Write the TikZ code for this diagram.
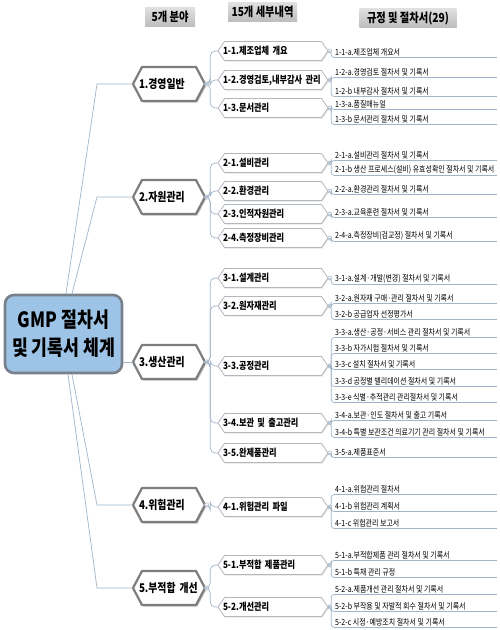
\documentclass[tikz,border=0pt]{standalone}
\usepackage{fontspec}
\newfontfamily\kr[FakeStretch=0.82]{Noto Sans CJK KR}
\definecolor{linec}{RGB}{160,180,202}
\definecolor{hexgray}{RGB}{125,125,125}
\definecolor{hexlight}{RGB}{178,184,192}
\definecolor{rootfill}{RGB}{157,195,230}
\definecolor{rootedge}{RGB}{120,128,138}
\tikzset{
  conn/.style={draw=linec, line width=0.7pt},
  knobst/.style={fill=white, draw=hexlight, line width=0.6pt},
  rootst/.style={draw=rootedge, fill=rootfill, line width=2.6pt, rounded corners=9pt,
    minimum width=117pt, minimum height=78pt, align=center, inner sep=0pt,
    font=\kr\bfseries\fontsize{21}{28}\selectfont},
  lonest/.style={minimum width=72pt, minimum height=34pt, text width=60pt, inner xsep=6pt,
    inner ysep=0pt, align=left, font=\kr\bfseries\fontsize{12}{14}\selectfont},
  ltwost/.style={minimum width=110pt, minimum height=19pt, text width=100pt, inner xsep=5pt,
    inner ysep=0pt, align=left, font=\kr\bfseries\fontsize{10}{12}\selectfont},
  leafst/.style={anchor=south west, inner xsep=1pt, inner ysep=1.5pt,
    font=\kr\fontsize{8.5}{9}\selectfont},
  hdr/.style={inner sep=0pt, minimum height=19pt, top color=black!12, bottom color=black!26,
    font=\kr\bfseries\fontsize{12.5}{14}\selectfont}
}
\newcommand\hexpath[6]{%
  \path[#6] ({#1-#3/2},{#2}) -- ({#1-#3/2+#5},{#2-#4/2}) -- ({#1+#3/2-#5},{#2-#4/2})
    -- ({#1+#3/2},{#2}) -- ({#1+#3/2-#5},{#2+#4/2}) -- ({#1-#3/2+#5},{#2+#4/2}) -- cycle;}
\newcommand\lone[3]{%
  \hexpath{170.5}{#2+1.5}{72}{34}{9}{fill=black!22}
  \hexpath{169}{#2}{72}{34}{9}{fill=white, draw=hexgray, line width=2.2pt, line join=round}
  \node[lonest] (#1) at (169,#2) {#3};
  \path[knobst] (#1.east) ++(1.5,0) circle[radius=2.2];}
\newcommand\ltwo[3]{%
  \hexpath{274}{#2+1.2}{110}{19}{6.5}{fill=black!10}
  \hexpath{273}{#2}{110}{19}{6.5}{fill=white, draw=hexlight, line width=0.8pt}
  \node[ltwost] (#1) at (273,#2) {#3};
  \path[knobst] (#1.east) ++(1.5,0) circle[radius=2];}
\newcommand\lconn[2]{\draw[conn, rounded corners=5pt] (#1.east) -- ++(5,0) |- (#2.west);}
\newcommand\leaf[4]{%
  \node[leafst] (#1) at (334,{#3+5.5}) {#4};
  \draw[conn, rounded corners=3pt] (#2.east) -- ++(3,0) |- (#1.south west);
  \draw[conn] (#1.south west) -- (#1.south west -| rx);}
\begin{document}
\begin{tikzpicture}[x=1pt,y=-1pt]
\useasboundingbox (0,0) rectangle (499,630);
\coordinate (rx) at (497,0);
\coordinate (jx) at (97,0);
% headers
\node[hdr, minimum width=50pt] (h1) at (170,17) {5개 분야};
\node[hdr, minimum width=69pt] (h2) at (262.5,12) {15개 세부내역};
\node[hdr, minimum width=97pt] (h3) at (408,18) {규정 및 절차서(29)};
% root
\node[rootst] (root) at (63.5,334) {GMP 절차서\\및 기록서 체계};
% level 1
\lone{A}{84}{1.경영일반}
\lone{B}{197}{2.자원관리}
\lone{C}{362}{3.생산관리}
\lone{D}{505}{4.위험관리}
\lone{E}{588}{5.부적합 개선}
% root connectors
\draw[conn] ([xshift=2.5pt]root.north) -- (A.west -| jx) -- (A.west);
\draw[conn] ([xshift=8.5pt]root.north) -- (B.west -| jx) -- (B.west);
\draw[conn] (C.west -| root.east) -- (C.west);
\draw[conn] ([xshift=8.5pt]root.south) -- (D.west -| jx) -- (D.west);
\draw[conn] ([xshift=4.5pt]root.south) -- (E.west -| jx) -- (E.west);
% level 2
\ltwo{A1}{51}{1-1.제조업체 개요}
\ltwo{A2}{80}{1-2.경영검토,내부감사 관리}
\ltwo{A3}{108}{1-3.문서관리}
\ltwo{B1}{163}{2-1.설비관리}
\ltwo{B2}{191}{2-2.환경관리}
\ltwo{B3}{214}{2-3.인적자원관리}
\ltwo{B4}{238}{2-4.측정장비관리}
\ltwo{C1}{278}{3-1.설계관리}
\ltwo{C2}{306}{3-2.원자재관리}
\ltwo{C3}{366}{3-3.공정관리}
\ltwo{C4}{423}{3-4.보관 및 출고관리}
\ltwo{C5}{453}{3-5.완제품관리}
\ltwo{D1}{507}{4-1.위험관리 파일}
\ltwo{E1}{565}{5-1.부적합 제품관리}
\ltwo{E2}{607}{5-2.개선관리}
\lconn{A}{A1}\lconn{A}{A2}\lconn{A}{A3}
\lconn{B}{B1}\lconn{B}{B2}\lconn{B}{B3}\lconn{B}{B4}
\lconn{C}{C1}\lconn{C}{C2}\lconn{C}{C3}\lconn{C}{C4}\lconn{C}{C5}
\lconn{D}{D1}
\lconn{E}{E1}\lconn{E}{E2}
% leaves
\leaf{a11a}{A1}{52}{1-1-a.제조업체 개요서}
\leaf{a12a}{A2}{72}{1-2-a.경영검토 절차서 및 기록서}
\leaf{a12b}{A2}{91}{1-2-b 내부감사 절차서 및 기록서}
\leaf{a13a}{A3}{104}{1-3-a.품질매뉴얼}
\leaf{a13b}{A3}{119}{1-3-b 문서관리 절차서 및 기록서}
\leaf{b21a}{B1}{155}{2-1-a.설비관리 절차서 및 기록서}
\leaf{b21b}{B1}{170}{2-1-b 생산 프로세스(설비) 유효성확인 절차서 및 기록서}
\leaf{b22a}{B2}{189}{2-2-a.환경관리 절차서 및 기록서}
\leaf{b23a}{B3}{212}{2-3-a.교육훈련 절차서 및 기록서}
\leaf{b24a}{B4}{236}{2-4-a.측정장비(검교정) 절차서 및 기록서}
\leaf{c31a}{C1}{279}{3-1-a.설계·개발(변경) 절차서 및 기록서}
\leaf{c32a}{C2}{298}{3-2-a.원자재 구매·관리 절차서 및 기록서}
\leaf{c32b}{C2}{314}{3-2-b 공급업자 선정평가서}
\leaf{c33a}{C3}{332}{3-3-a.생산·공정·서비스 관리 절차서 및 기록서}
\leaf{c33b}{C3}{348}{3-3-b 자가시험 절차서 및 기록서}
\leaf{c33c}{C3}{364}{3-3-c 설치 절차서 및 기록서}
\leaf{c33d}{C3}{381}{3-3-d 공정별 밸리데이션 절차서 및 기록서}
\leaf{c33e}{C3}{397}{3-3-e 식별·추적관리 관리절차서 및 기록서}
\leaf{c34a}{C4}{415}{3-4-a.보관·인도 절차서 및 출고 기록서}
\leaf{c34b}{C4}{432}{3-4-b 특별 보관조건 의료기기 관리 절차서 및 기록서}
\leaf{c35a}{C5}{452}{3-5-a.제품표준서}
\leaf{d41a}{D1}{489}{4-1-a.위험관리 절차서}
\leaf{d41b}{D1}{506}{4-1-b 위험관리 계획서}
\leaf{d41c}{D1}{523}{4-1-c 위험관리 보고서}
\leaf{e51a}{E1}{555}{5-1-a.부적합제품 관리 절차서 및 기록서}
\leaf{e51b}{E1}{572}{5-1-b 특채 관리 규정}
\leaf{e52a}{E2}{589}{5-2-a.제품개선 관리 절차서 및 기록서}
\leaf{e52b}{E2}{606}{5-2-b 부작용 및 자발적 회수 절차서 및 기록서}
\leaf{e52c}{E2}{622}{5-2-c 시정·예방조치 절차서 및 기록서}
\end{tikzpicture}
\end{document}
